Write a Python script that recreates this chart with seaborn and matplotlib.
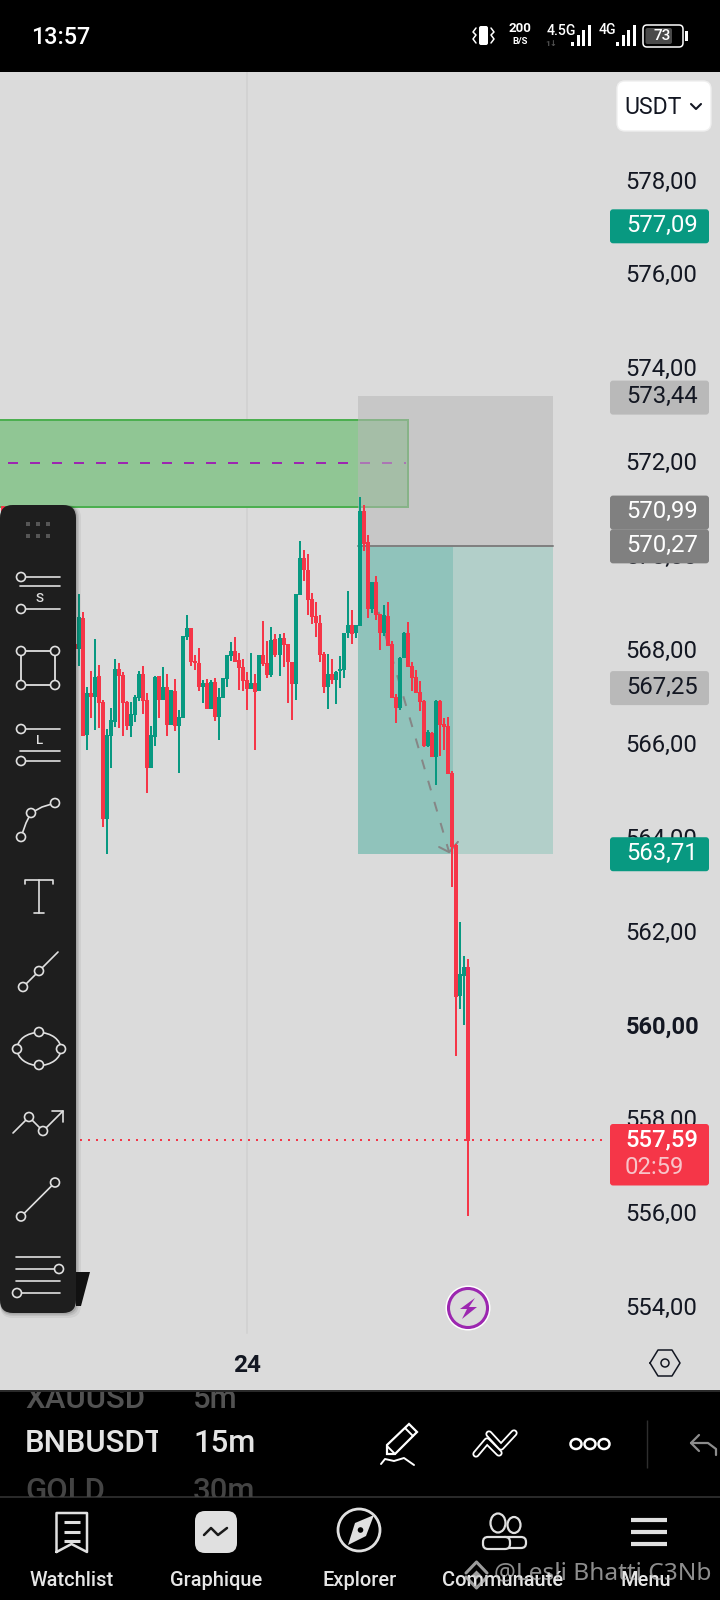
import numpy as np
import pandas as pd
import matplotlib
matplotlib.use("Agg")
import matplotlib.pyplot as plt
from matplotlib.patches import Circle, Ellipse, FancyBboxPatch, Polygon, Rectangle
from matplotlib.transforms import Bbox, ScaledTranslation
import seaborn as sns

# candles, the two first ones are nearly hidden by the toolbar
candle_idx = [-19, -1] + list(range(98))
opens = [571.07, 568.13,
    568.02, 568.68, 566.18, 567.08, 566.99, 567.44, 566.89, 564.39, 566.16, 566.46,
    567.59, 567.46, 566.89, 566.38, 566.61, 566.97, 567.48, 566.93, 565.48, 566.14,
    567.44, 566.93, 567.21, 566.40, 567.12, 566.38, 566.55, 568.27, 568.46, 567.76,
    567.72, 567.21, 567.29, 566.74, 567.31, 566.57, 566.98, 567.38, 567.87, 567.97,
    567.78, 567.63, 567.35, 567.16, 567.29, 567.12, 567.89, 567.72, 567.46, 568.23,
    567.89, 568.25, 568.12, 567.74, 567.27, 569.17, 569.95, 569.70, 569.08, 568.72,
    568.57, 567.91, 567.21, 567.49, 567.36, 567.55, 567.57, 568.36, 568.53, 568.36,
    568.51, 570.96, 570.30, 568.87, 569.45, 568.77, 568.36, 568.72, 568.13, 567.00,
    566.76, 567.83, 568.36, 567.66, 567.42, 567.10, 566.91, 565.95, 566.23, 565.72,
    566.91, 566.42, 566.38, 565.38, 563.84, 560.62, 561.05, 561.24]
highs = [571.07, 568.13,
    569.19, 568.81, 567.21, 567.55, 568.23, 567.67, 566.93, 566.31, 566.76, 567.80,
    567.72, 567.53, 566.91, 566.89, 567.04, 567.55, 567.66, 567.08, 566.38, 567.44,
    567.44, 567.63, 567.48, 567.14, 567.38, 566.72, 568.29, 568.74, 568.46, 567.89,
    568.04, 567.35, 567.38, 567.35, 567.40, 567.18, 567.40, 567.89, 568.16, 568.27,
    567.93, 567.80, 567.53, 567.93, 567.48, 567.89, 568.61, 568.19, 568.48, 568.34,
    568.34, 568.36, 568.12, 567.74, 569.19, 570.32, 570.13, 570.04, 569.21, 569.02,
    568.74, 567.96, 567.91, 567.81, 567.55, 567.87, 568.36, 569.25, 568.85, 568.53,
    571.26, 571.09, 570.45, 569.45, 569.58, 568.77, 568.96, 569.02, 568.19, 567.06,
    567.85, 568.38, 568.59, 567.74, 567.57, 567.34, 566.93, 566.29, 566.25, 566.93,
    566.93, 566.55, 566.57, 565.42, 563.86, 562.20, 561.48, 561.41]
lows = [570.87, 568.02,
    567.66, 566.16, 565.86, 566.55, 566.29, 566.33, 564.22, 563.65, 565.48, 566.35,
    566.33, 566.16, 566.29, 566.14, 566.46, 566.91, 566.63, 564.95, 565.48, 565.95,
    566.55, 566.93, 566.16, 566.40, 566.27, 565.37, 566.55, 568.21, 567.66, 567.57,
    567.12, 566.87, 566.74, 566.74, 566.48, 566.08, 566.98, 567.21, 567.76, 567.74,
    567.14, 567.12, 566.72, 567.16, 565.86, 567.12, 567.66, 567.40, 567.42, 567.85,
    567.44, 567.63, 566.87, 566.50, 566.93, 569.17, 569.46, 568.74, 568.55, 568.27,
    567.74, 567.08, 566.74, 567.27, 566.85, 567.19, 567.40, 568.25, 568.13, 568.25,
    568.51, 570.11, 568.68, 568.79, 568.64, 568.00, 568.30, 568.08, 566.98, 566.44,
    566.72, 567.83, 567.64, 567.12, 567.08, 566.70, 565.93, 565.93, 565.72, 565.12,
    565.74, 565.87, 565.36, 562.95, 559.35, 560.35, 560.01, 555.94]
closes = [570.87, 568.02,
    568.71, 566.16, 567.08, 566.99, 567.42, 566.87, 564.39, 566.18, 566.50, 567.59,
    567.44, 566.87, 566.38, 566.63, 566.99, 567.48, 566.91, 565.48, 566.18, 567.42,
    566.93, 567.21, 566.40, 567.14, 566.38, 566.57, 568.29, 568.46, 567.74, 567.72,
    567.21, 567.29, 566.74, 567.31, 566.57, 566.99, 567.40, 567.89, 567.97, 567.74,
    567.61, 567.33, 567.16, 567.29, 567.10, 567.89, 567.70, 567.46, 568.21, 567.89,
    568.25, 568.10, 567.74, 567.27, 569.19, 569.95, 569.70, 569.06, 568.70, 568.57,
    567.89, 567.21, 567.49, 567.36, 567.53, 567.59, 568.36, 568.53, 568.34, 568.53,
    570.96, 570.26, 568.87, 569.45, 568.74, 568.36, 568.74, 568.08, 566.98, 566.76,
    567.83, 568.36, 567.64, 567.40, 567.08, 566.89, 565.95, 566.25, 565.72, 566.91,
    566.40, 566.36, 565.36, 563.80, 560.61, 561.09, 561.24, 557.54]

price_ticks = [578, 576, 574, 572, 570, 568, 566, 564, 562, 560, 558, 556, 554]
price_labels = ["578,00", "576,00", "574,00", "572,00", "570,00", "568,00", "566,00",
                "564,00", "562,00", "560,00", "558,00", "556,00", "554,00"]
tag_values = [577.09, 573.44, 570.99, 570.27, 567.25, 563.71]
tag_texts = ["577,09", "573,44", "570,99", "570,27", "567,25", "563,71"]
tag_fills = ["#089981", "#b9b9b9", "#808080", "#808080", "#b9b9b9", "#089981"]
tag_inks = ["white", "#131722", "white", "white", "#131722", "white"]
last_price = 557.55

zone_top, zone_mid, zone_bottom = 572.89, 571.99, 571.05
stop_top, entry, target = 573.40, 570.22, 563.65
arrow_x = [74.7, 92.3]
arrow_y = [568.81, 563.69]
barb_x = [89.8, 92.3, 94.5]
barb_y = [563.80, 563.69, 563.91]

RED = "#f53648"
GREEN = "#089981"
BG = "#dbdbdb"
UI = "#e0e0e0"
PANEL = "#1e1e1e"

sns.set_theme(style="white")
plt.rcParams["font.family"] = ["Roboto", "DejaVu Sans"]
plt.rcParams["patch.force_edgecolor"] = False

fig = plt.figure(figsize=(7.2, 16), dpi=100, facecolor="black")
chart_top, chart_bottom = 72, 1390
ax = fig.add_axes([0, 1 - chart_bottom / 1600, 1, (chart_bottom - chart_top) / 1600])
ax.set_facecolor(BG)

# 79 px is candle 0, 4.01 px per candle, 46.93 px per price unit
ax.set_xlim(-79 / 4.01, (720 - 79) / 4.01)
ymax = 578 + (180.6 - chart_top) / 46.93
ymin = 578 - (chart_bottom - 180.6) / 46.93
ax.set_ylim(ymin, ymax)
sns.despine(ax=ax, left=True, bottom=True)

ax.set_yticks(price_ticks, price_labels)
ax.yaxis.tick_right()
ax.tick_params(axis="y", length=0, pad=-16.6, labelsize=17.2, labelcolor="#131722")
for tick in ax.yaxis.get_major_ticks():
    lab = tick.label2
    lab.set_ha("right")
    shift_x = 0
    if lab.get_text() == "560,00":
        lab.set_fontweight("bold")
        lab.set_fontsize(17)
        shift_x = 3
    lab.set_transform(lab.get_transform() + ScaledTranslation(shift_x / 100, 1 / 100, fig.dpi_scale_trans))
ax.set_xticks([42], ["24"])
ax.tick_params(axis="x", length=0, pad=-26, labelsize=17.6, labelcolor="#131722")
for lab in ax.get_xticklabels():
    lab.set_fontweight("bold")
ax.axvline(42, ymin=(1390 - 1333) / 1318, color="#d2d2d2", lw=1.44, zorder=0.5)

# position boxes and the green zone
ax.add_patch(Rectangle((-25, zone_bottom), 107.04, zone_top - zone_bottom, fc="#90c694",
                       ec="#4caf50", lw=1.44, zorder=1))
ax.plot([-17.75, 81.5], [zone_mid, zone_mid], color="#9c27b0", lw=1.44, zorder=1.1,
        dashes=(5, 6), dash_capstyle="butt")
ax.add_patch(Rectangle((69.58, entry), 48.55, stop_top - entry, fc="#b8b8b8", alpha=0.55,
                       lw=0, zorder=1.2))
ax.add_patch(Rectangle((69.58, target), 23.61, entry - target, fc="#90c3bb", lw=0, zorder=1.2))
ax.add_patch(Rectangle((93.19, target), 24.94, entry - target, fc="#b2cfc9", lw=0, zorder=1.2))
ax.plot([69.58, 118.13], [entry, entry], color="#808080", lw=1.44, zorder=1.3)

ax.plot(arrow_x, arrow_y, color="#868686", lw=1.44, dashes=(5, 6), zorder=2,
        dash_capstyle="butt")
ax.plot(barb_x, barb_y, color="#868686", lw=1.44, zorder=2)

ax.plot([-19.75, 130.4], [last_price, last_price], color=RED, lw=1.44, zorder=2,
        dashes=(1, 3), dash_capstyle="butt")

candles = pd.DataFrame({"idx": candle_idx, "open": opens, "high": highs,
                        "low": lows, "close": closes})
candles["side"] = np.where(candles["close"] >= candles["open"], "up", "down")
palette = {"up": GREEN, "down": RED}
wicks = candles.melt(id_vars=["idx", "side"], value_vars=["high", "low"], value_name="price")
bodies = candles.melt(id_vars=["idx", "side"], value_vars=["open", "close"], value_name="price")
sns.lineplot(data=wicks, x="idx", y="price", hue="side", units="idx", estimator=None,
             palette=palette, lw=1.44, legend=False, sort=False, ax=ax, zorder=4,
             solid_capstyle="butt")
sns.lineplot(data=bodies, x="idx", y="price", hue="side", units="idx", estimator=None,
             palette=palette, lw=2.88, legend=False, sort=False, ax=ax, zorder=4,
             solid_capstyle="butt")
ax.set_xlabel("")
ax.set_ylabel("")

# everything of the app around the chart, in screen pixels
ui = fig.add_axes([0, 0, 1, 1])
ui.set_xlim(0, 720)
ui.set_ylim(1600, 0)
ui.axis("off")
ui.patch.set_alpha(0)


def py(price):
    return chart_top + (ymax - price) / (ymax - ymin) * (chart_bottom - chart_top)


def line(xs, ys, color=UI, lw=1.2, z=12, **kw):
    ui.plot(xs, ys, color=color, lw=lw, zorder=z, solid_capstyle=kw.pop("cap", "round"), **kw)


def box(x0, y0, x1, y1, fc, r=3, ec="none", lw=0, z=10):
    ui.add_patch(FancyBboxPatch((x0 + r, y0 + r), x1 - x0 - 2 * r, y1 - y0 - 2 * r,
                                boxstyle=f"round,pad={r}", fc=fc, ec=ec, lw=lw, zorder=z))


def label(x, y, s, size, color="white", ha="center", weight="normal", z=14, **kw):
    return ui.text(x, y, s, fontsize=size, color=color, ha=ha, va="center", fontweight=weight,
                   zorder=z, **kw)


# price tags
for value, text, fill, ink in zip(tag_values, tag_texts, tag_fills, tag_inks):
    box(610, py(value) - 14, 709, py(value) + 20, fill)
    label(698, py(value) + 2, text, 17.2, ink, ha="right")
box(610, 1124, 709, 1185.5, RED)
label(698, 1140, "557,59", 17.2, "white", ha="right", weight="medium")
label(625, 1167, "02:59", 17.2, "#f8c4c9", ha="left")

# lightning button
ui.add_patch(Circle((468, 1308), 22.5, fc="white", ec="none", zorder=9))
ui.add_patch(Circle((468, 1308), 19.5, fc=BG, ec="#9c27b0", lw=2.2, zorder=9))
ui.add_patch(Polygon([(475, 1298), (460, 1309), (467, 1309), (462, 1319), (477, 1307),
                      (469, 1307)], fc="#9c27b0", ec="none", zorder=10))

# hexagon of the settings
hx, hy = 665, 1363
ui.plot([hx - 15, hx - 7, hx + 7, hx + 15, hx + 7, hx - 7, hx - 15],
        [hy, hy - 13, hy - 13, hy, hy + 13, hy + 13, hy], color="#131722", lw=1.1, zorder=10)
ui.add_patch(Circle((hx, hy), 4, fc="none", ec="#131722", lw=1.1, zorder=10))

# currency button
box(617, 81, 711, 131, "white", r=8, ec="#efefef", lw=1)
label(624, 107, "USDT", 16.6, "#131722", ha="left")
line([691, 696, 701], [104, 109, 104], "#131722", 1.5)

# top status bar
ui.add_patch(Rectangle((0, 0), 720, chart_top, fc="black", zorder=9))
label(31, 38, "13:57", 16.8, "white", ha="left", weight="medium")
box(479, 26, 488, 45, "white", r=2)
line([476, 473, 476, 473, 476], [28, 32, 35, 39, 43], "white", 1.1)
line([491, 494, 491, 494, 491], [28, 32, 35, 39, 43], "white", 1.1)
label(520, 29, "200", 9.5, "white", weight="bold")
label(520, 41, "B/S", 6.8, "white", weight="bold")
label(561, 31, "4.5G", 10.2, "white", weight="medium")
label(551, 43, "1\u2193", 6, "#555555", weight="bold")
for x0, x1, top in [(571, 574, 41.7), (577, 580, 35), (582, 585, 30), (588, 591, 25)]:
    ui.add_patch(Rectangle((x0, top), x1 - x0, 46 - top, fc="white", zorder=11))
label(607, 30, "4G", 10.2, "white", weight="medium")
for x0, x1, top in [(616, 619.3, 41.7), (621.7, 625, 35), (626.7, 630, 30), (632.7, 636, 25)]:
    ui.add_patch(Rectangle((x0, top), x1 - x0, 46 - top, fc="white", zorder=11))
box(643, 25, 683, 47, "black", r=4, ec="white", lw=1.1, z=11)
box(645.5, 28, 672, 44, "#4a4a4a", r=2, z=12)
label(662, 36, "73", 11, "white", weight="medium")
ui.add_patch(Rectangle((685, 31), 2.5, 10, fc="white", zorder=11))

# lower panel
ui.add_patch(Rectangle((0, 1390), 720, 210, fc="black", zorder=9))
line([0, 720], [1391, 1391], "#2b2b2b", 1.4, z=10, cap="butt")
line([0, 720], [1497, 1497], "#2b2b2b", 1.4, z=10, cap="butt")
clip_picker = Bbox([[0, 103], [158, 208]])
clip_times = Bbox([[160, 103], [300, 208]])
rows = [(1399, "#525252", "XAUUSD", "5m"), (1444, "#e4e4e4", "BNBUSDT", "15m"),
        (1492, "#444444", "GOLD", "30m")]
for y, ink, pair, span in rows:
    for x, s, size, clip in [(25, pair, 22.4, clip_picker), (193, span, 22.4, clip_times)]:
        t = label(x, y, s, size, ink, ha="left", weight="medium", clip_on=True)
        t.set_clip_box(clip)

# drawing shortcuts of the lower panel
ui.add_patch(Polygon([(387, 1445), (409, 1424), (417, 1432), (395, 1454), (387, 1454)],
                     fc="black", ec="white", lw=1.6, zorder=11))
line([387, 395], [1446, 1454], "white", 1.4)
line([405, 413], [1428, 1436], "white", 1.4)
line([381, 385, 394, 404, 414], [1464, 1459, 1461, 1458, 1465], "white", 1.4)
for xs, ys in [([476, 487, 499], [1454, 1441, 1453]), ([489, 501, 514], [1434, 1447, 1433])]:
    line(xs, ys, "white", 5.2, z=11)
    line(xs, ys, "black", 2.6, z=12)
for x in [576, 590, 604]:
    ui.add_patch(Ellipse((x, 1444), 11, 10, fc="black", ec="white", lw=1.8, zorder=11))
line([647, 647], [1420, 1468], "#2e2e2e", 1, cap="butt")
line([699, 691, 699], [1435, 1443, 1451], "#8c8c8c", 1.6)
line([691, 708, 716, 716], [1443, 1443, 1449, 1455], "#8c8c8c", 1.6)

# bottom navigation
line([56.5, 56.5, 87, 87, 71.5, 56.5], [1552, 1513, 1513, 1552, 1544, 1552], UI, 1.8)
for y in [1522, 1532, 1541]:
    line([63.5, 80], [y, y], UI, 2.2, cap="butt")
box(195, 1511, 237, 1553, UI, r=10)
line([204, 211, 218, 227], [1535, 1528, 1535, 1528], "#1a1a1a", 1.8, z=12)
ui.add_patch(Circle((359, 1530), 21, fc="none", ec=UI, lw=2, zorder=11))
ui.add_patch(Polygon([(374, 1515), (366, 1536), (348, 1545), (355, 1523)], fc=UI, ec="none", zorder=11))
ui.add_patch(Circle((360.5, 1530), 2.8, fc="black", ec="none", zorder=12))
ui.add_patch(Ellipse((514, 1525), 13, 16, fc="black", ec=UI, lw=1.6, zorder=11))
ui.add_patch(Ellipse((498, 1523), 15, 19, fc="black", ec=UI, lw=1.6, zorder=11))
box(500, 1537, 526, 1548, "black", r=5, ec=UI, lw=1.6, z=11)
box(483, 1537, 510, 1549, "black", r=5, ec=UI, lw=1.6, z=12)
for y in [1520, 1532, 1544]:
    line([631, 667], [y, y], UI, 3, cap="butt")
nav = [(72, "Watchlist"), (216, "Graphique"), (359.5, "Explorer"), (503, "Communaut\u00e9"), (646, "Menu")]
for x, s in nav:
    label(x, 1580, s, 14.4, "#e6e6e6", weight="medium")

# watermark
wm = "#c4c4c4"
line([466, 476.5, 487], [1573, 1562, 1573], wm, 2.2, z=15, alpha=0.8)
line([466, 476.5, 487], [1577, 1588, 1577], wm, 2.2, z=15, alpha=0.8)
ui.add_patch(Polygon([(476.5, 1570.5), (481, 1575), (476.5, 1579.5), (472, 1575)], fc=wm, alpha=0.8, zorder=15))
ui.text(494, 1573, "@Lesli Bhatti C3Nb", fontsize=17.6, color=wm, alpha=0.72, va="center",
        family=["Noto Sans", "DejaVu Sans"], fontweight="light", zorder=15)

# floating toolbar with its shadow
for grow, shade in [(5, 0.05), (3, 0.08), (1.5, 0.12)]:
    ui.add_patch(FancyBboxPatch((13, 518), 50 + grow, 782 + grow, boxstyle="round,pad=13",
                                fc="black", alpha=shade, ec="none", zorder=15))
ui.add_patch(Polygon([(76, 1272), (90, 1272), (81, 1306), (76, 1306)], fc="#111111", zorder=15.5))
ui.add_patch(FancyBboxPatch((13, 518), 50, 782, boxstyle="round,pad=13", fc=PANEL, ec="none", zorder=16))


def tl(xs, ys, lw=1.2):
    line(xs, ys, UI, lw, z=17)


def hd(x, y, r=4.5):
    ui.add_patch(Circle((x, y), r, fc=PANEL, ec=UI, lw=1.2, zorder=18))


for x in [28, 38, 48]:
    for y in [523.5, 535.6]:
        ui.add_patch(Rectangle((x - 2, y - 2), 4, 4, fc="#565656", zorder=17))

tl([21, 60], [577, 577]); tl([20, 60], [586, 586]); tl([21, 60], [609, 609])
hd(21, 577); hd(21, 609)
ui.text(40, 598, "S", fontsize=9.5, color=UI, ha="center", va="center", zorder=17, fontweight="medium")

tl([21, 55, 55, 21, 21], [651, 651, 685, 685, 651], 1.3)
for x, y in [(21, 651), (55, 651), (21, 685), (55, 685)]:
    hd(x, y)

tl([21, 60], [729, 729]); tl([20, 60], [751, 751]); tl([21, 60], [761, 761])
hd(21, 729); hd(21, 761)
ui.text(40, 740, "L", fontsize=9.5, color=UI, ha="center", va="center", zorder=17, fontweight="medium")

tl([21, 26, 31, 42, 55], [837, 823, 813, 807, 803])
hd(21, 837); hd(31, 813); hd(55, 803)

tl([25, 25, 53, 53], [884, 880, 880, 884]); tl([39, 39], [880, 913]); tl([34, 44], [913, 913])

tl([23, 58], [987, 952]); hd(23, 987); hd(39, 971)

ui.add_patch(Ellipse((39, 1049), 44, 33, fc="none", ec=UI, lw=1.2, zorder=17))
for x, y in [(39, 1032), (17, 1049), (61, 1049), (39, 1065)]:
    hd(x, y)

tl([13, 29, 43, 63], [1133, 1117, 1131, 1111]); tl([52, 63, 63], [1111, 1111, 1122])
hd(29, 1117); hd(43, 1131)

tl([21, 55], [1216.5, 1182.5]); hd(21, 1216.5); hd(55, 1182.5)

tl([16, 60], [1257, 1257]); tl([16, 59], [1269, 1269]); tl([16, 60], [1281, 1281]); tl([17, 60], [1293, 1293])
hd(59, 1269); hd(17, 1293)

fig.savefig("out.png", dpi=100, facecolor="black")
